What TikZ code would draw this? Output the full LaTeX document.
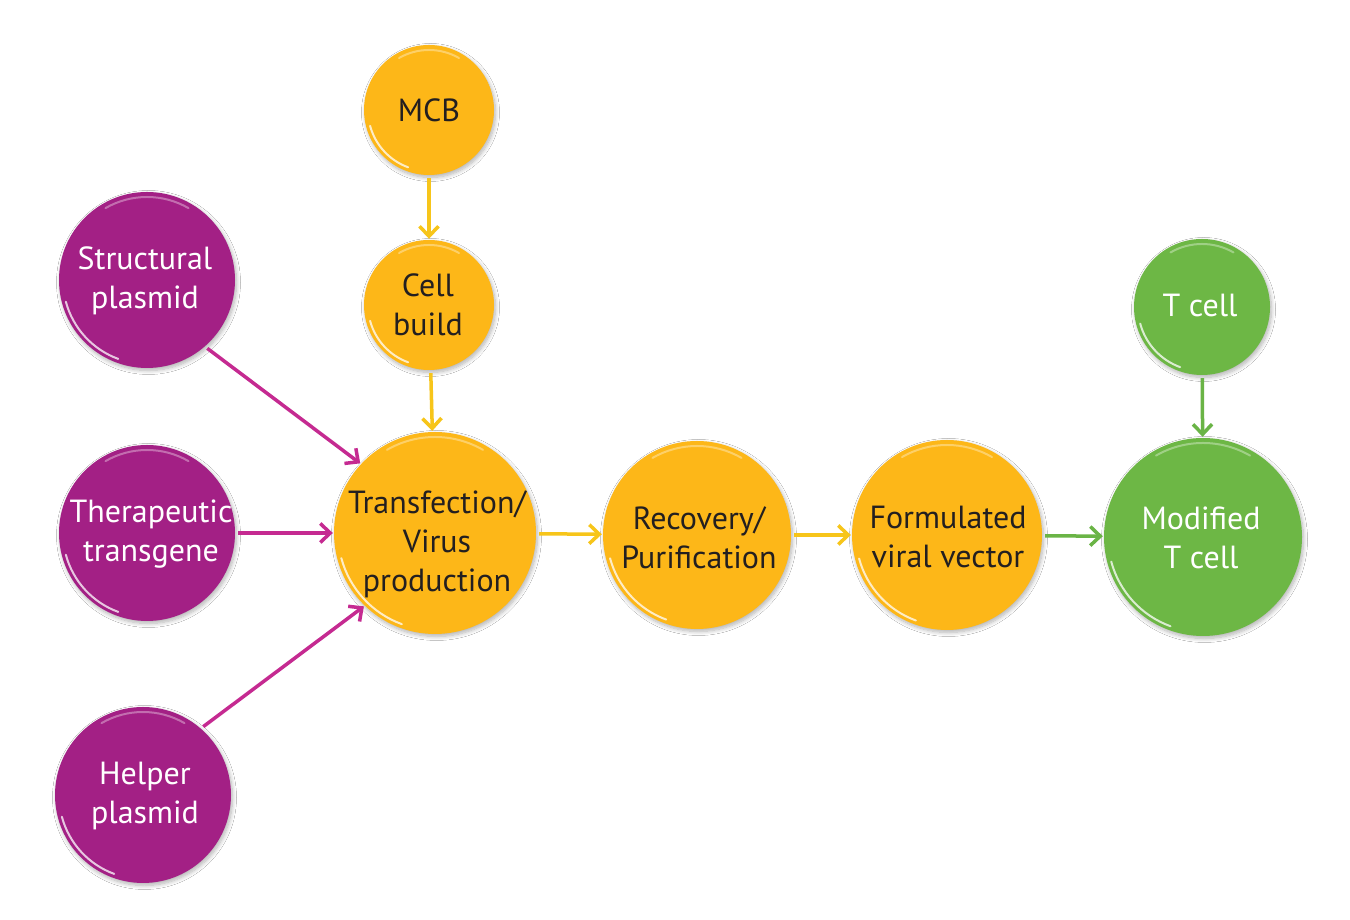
\documentclass[tikz,border=0pt]{standalone}
\usepackage{fontspec}
\setmainfont{PT Sans}
\usetikzlibrary{arrows.meta,shadows.blur}
\definecolor{purp}{HTML}{A32085}
\definecolor{gold}{HTML}{FDB718}
\definecolor{grn}{HTML}{6DB745}
\definecolor{parrow}{HTML}{C52A91}
\definecolor{yarrow}{HTML}{F7C51A}
\definecolor{garrow}{HTML}{6AB446}
\definecolor{ink}{HTML}{231F20}
\tikzset{
  ball/.style={circle, inner sep=0pt, minimum size=#1,
    blur shadow={shadow xshift=1.5pt, shadow yshift=-2.5pt, shadow blur steps=8,
      shadow opacity=30, shadow blur radius=4pt}},
  pball/.style={ball=#1, fill=purp},
  yball/.style={ball=#1, fill=gold},
  gball/.style={ball=#1, fill=grn},
  lbl/.style={font=\fontsize{32}{39}\selectfont, align=center, text=white},
  dlbl/.style={lbl, text=ink},
  conn/.style={line width=3.5pt, -{Straight Barb[length=10pt,width=19pt,line width=3.5pt]},
    shorten <=3pt, shorten >=1pt},
  pconn/.style={conn, parrow},
  yconn/.style={conn, yarrow},
  gconn/.style={conn, garrow},
  hl/.style={white, line width=2pt, opacity=.75, line cap=round},
  hlt/.style={white, line width=2pt, opacity=.35, line cap=round},
}
\begin{document}
\begin{tikzpicture}[x=1pt,y=1pt]
\useasboundingbox[fill=white] (0,0) rectangle (1350,920);

\node[yball=130] (mcb) at (429,810) {};
\node[dlbl] (mcbt) at (429,810) {MCB};
\node[yball=130] (cb) at (429,615) {};
\node[dlbl] (cbt) at (428,615) {Cell\\build};

\node[pball=176] (sp) at (147,640) {};
\node[lbl] (spt) at (145,639) {Structural\\plasmid};
\node[pball=176] (tt) at (147,387) {};
\node[lbl] (ttt) at (151,386) {Therapeutic\\transgene};
\node[pball=176] (hp) at (143,125) {};
\node[lbl] (hpt) at (145,124) {Helper\\plasmid};

\node[yball=202] (tf) at (435,387) {};
\node[dlbl] (tft) at (437,376) {Transfection/\\Virus\\production};
\node[yball=188] (rp) at (697,385) {};
\node[dlbl] (rpt) at (699,382) {Recovery/\\Purification};
\node[yball=190] (fv) at (947,385) {};
\node[dlbl] (fvt) at (948,383) {Formulated\\viral vector};

\node[gball=136] (tc) at (1202,613) {};
\node[lbl] (tct) at (1200,614) {T cell};
\node[gball=198] (mt) at (1203,383) {};
\node[lbl] (mtt) at (1201,382) {Modified\\T cell};

\foreach \n/\r in {mcb/65, cb/65, sp/88, tt/88, hp/88, tf/101, rp/94, fv/95, tc/68, mt/99} {
  \draw[hl] (\n.center) ++(195:{\r-4}) arc[start angle=195, end angle=250, radius={\r-4}];
  \draw[hlt] (\n.center) ++(60:{\r-5}) arc[start angle=60, end angle=120, radius={\r-5}];
}

\draw[yconn] (mcb) -- (cb);
\draw[yconn] (cb) -- (tf);
\draw[pconn] (sp.-49) -- (tf.137);
\draw[pconn] (tt) -- (tf);
\draw[pconn] (hp.49) -- (tf.-134);
\draw[yconn] (tf) -- (rp);
\draw[yconn] (rp) -- (fv);
\draw[gconn] (fv) -- (mt);
\draw[gconn] (tc) -- (mt);
\end{tikzpicture}
\end{document}
